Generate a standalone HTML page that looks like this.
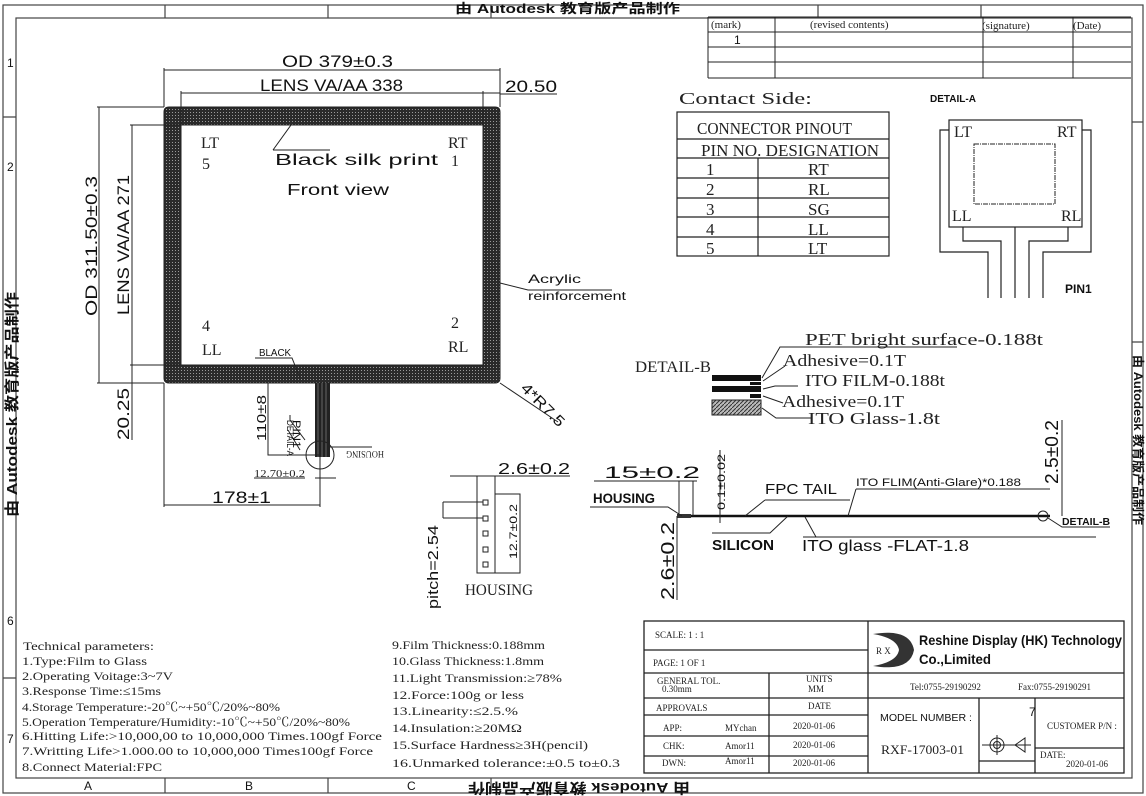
<!DOCTYPE html>
<html><head><meta charset="utf-8"><style>
html,body{margin:0;padding:0;background:#fff}
svg{display:block}
.s{font-family:"Liberation Serif","Noto Serif CJK SC",serif;fill:#222}
.a{font-family:"Liberation Sans","Noto Sans CJK SC",sans-serif;fill:#111}
.b{font-family:"Liberation Sans","Noto Sans CJK SC",sans-serif;font-weight:bold;fill:#111}
</style></head><body>
<svg width="1146" height="796" viewBox="0 0 1146 796" xmlns="http://www.w3.org/2000/svg">
<defs>
<pattern id="dot" width="3" height="3" patternUnits="userSpaceOnUse"><rect width="3" height="3" fill="#2a2a2a"/><rect x="1" y="1" width="1" height="1" fill="#9a9a9a"/></pattern>
<pattern id="hat" width="4" height="4" patternUnits="userSpaceOnUse"><rect width="4" height="4" fill="#bbb"/><path d="M0 4L4 0" stroke="#333" stroke-width="1"/></pattern>
</defs>
<g fill="none" stroke="#444" stroke-width="1.2">
<rect x="3" y="5" width="1140" height="788"/>
<rect x="16" y="18" width="1116" height="760"/>
<path d="M165 5V18M328 5V18M491 5V18M818 5V18M981 5V18"/>
<path d="M165 778V793M328 778V793M491 778V793"/>
<path d="M3 117H16M3 678H16M1132 122H1143M1132 342H1143"/>
</g>
<text class="a" x="7" y="67" font-size="12">1</text>
<text class="a" x="7" y="171" font-size="12">2</text>
<text class="a" x="7" y="625" font-size="12">6</text>
<text class="a" x="7" y="743" font-size="12">7</text>
<text class="a" x="84" y="790" font-size="12">A</text>
<text class="a" x="245" y="790" font-size="12">B</text>
<text class="a" x="407" y="790" font-size="12">C</text>
<text class="b" x="455" y="13" font-size="13" textLength="225" lengthAdjust="spacingAndGlyphs">由 Autodesk 教育版产品制作</text>
<text class="b" transform="translate(690,783) rotate(180)" font-size="14" textLength="222" lengthAdjust="spacingAndGlyphs">由 Autodesk 教育版产品制作</text>
<text class="b" transform="translate(17,517) rotate(-90)" font-size="15" textLength="225" lengthAdjust="spacingAndGlyphs">由 Autodesk 教育版产品制作</text>
<text class="b" transform="translate(1134,355) rotate(90)" font-size="12" textLength="170" lengthAdjust="spacingAndGlyphs">由 Autodesk 教育版产品制作</text>

<!-- revision table -->
<g fill="none" stroke="#222" stroke-width="1">
<path d="M708 17V78M775 17V78M983 17V78M1073 17V78M708 32H1131M708 47H1131M708 62H1131M708 78H1131M708 17H1131"/>
</g>
<text class="s" x="711" y="28" font-size="11">(mark)</text>
<text class="s" x="810" y="28" font-size="11">(revised contents)</text>
<text class="s" x="982" y="29" font-size="11">(signature)</text>
<text class="s" x="1073" y="29" font-size="11">(Date)</text>
<text class="a" x="734" y="44" font-size="12">1</text>

<!-- main panel -->
<path fill="url(#dot)" fill-rule="evenodd" stroke="#222" d="M169 107H495Q500 107 500 112V378Q500 383 495 383H169Q164 383 164 378V112Q164 107 169 107ZM181 125V365H483V125Z"/>
<rect x="315" y="383" width="15" height="74" fill="#222"/>
<path d="M318 383V457M322 383V457M326 383V457" stroke="#777" stroke-width="0.8"/>
<g fill="none" stroke="#222" stroke-width="1">
<path d="M164 107V68M500 107V68M164 70H500"/>
<path d="M181 125V91M483 125V91M181 93H483M483 93H500M500 94H557"/>
<path d="M164 107H97M164 383H97M99 107V383"/>
<path d="M181 125H130M181 365H130M132 125V440M132 383H164"/>
<path d="M164 383V507M320 455V507M164 505H320"/>
<path d="M315 383H268V455H320M268 455H268"/>
<circle cx="320" cy="455" r="14"/>
<path d="M273 150H330M273 150L291 125"/>
<path d="M255 358H292L300 378"/>
<path d="M500 283L528 290H612"/>
<path d="M500 383L558 422"/>
<path d="M305 440L290 420V415M300 450L288 430M330 447H372"/>
<path d="M254 478H305M315 478H336M320 470V490"/>
</g>
<text class="a" x="282" y="67" font-size="17" textLength="111" lengthAdjust="spacingAndGlyphs">OD 379±0.3</text>
<text class="a" x="260" y="91" font-size="17" textLength="143" lengthAdjust="spacingAndGlyphs">LENS VA/AA 338</text>
<text class="a" x="505" y="92" font-size="17" textLength="52" lengthAdjust="spacingAndGlyphs">20.50</text>
<text class="a" transform="translate(97,316) rotate(-90)" font-size="17" textLength="140" lengthAdjust="spacingAndGlyphs">OD 311.50±0.3</text>
<text class="a" transform="translate(129,315) rotate(-90)" font-size="17" textLength="140" lengthAdjust="spacingAndGlyphs">LENS VA/AA 271</text>
<text class="a" transform="translate(129,440) rotate(-90)" font-size="17" textLength="52" lengthAdjust="spacingAndGlyphs">20.25</text>
<text class="a" x="212" y="503" font-size="17" textLength="59" lengthAdjust="spacingAndGlyphs">178±1</text>
<text class="a" transform="translate(266,441) rotate(-90)" font-size="13" textLength="46" lengthAdjust="spacingAndGlyphs">110±8</text>
<text class="a" transform="translate(287,420) rotate(90)" font-size="9" textLength="36" lengthAdjust="spacingAndGlyphs">DETAIL-A</text>
<text class="a" transform="translate(293,420) rotate(90)" font-size="11" textLength="28" lengthAdjust="spacingAndGlyphs">PIN1</text>
<text class="s" transform="translate(384,451) rotate(180)" font-size="9" textLength="38" lengthAdjust="spacingAndGlyphs">HOUSING</text>
<text class="s" x="254" y="477" font-size="10" textLength="51" lengthAdjust="spacingAndGlyphs">12.70±0.2</text>
<text class="a" x="259" y="356" font-size="10" textLength="32" lengthAdjust="spacingAndGlyphs">BLACK</text>
<text class="s" x="201" y="148" font-size="16">LT</text>
<text class="s" x="202" y="169" font-size="16">5</text>
<text class="s" x="448" y="148" font-size="16">RT</text>
<text class="s" x="451" y="166" font-size="16">1</text>
<text class="s" x="202" y="331" font-size="16">4</text>
<text class="s" x="202" y="355" font-size="16">LL</text>
<text class="s" x="451" y="328" font-size="16">2</text>
<text class="s" x="448" y="352" font-size="16">RL</text>
<text class="a" x="275" y="165" font-size="16" textLength="163" lengthAdjust="spacingAndGlyphs">Black silk print</text>
<text class="a" x="287" y="195" font-size="16" textLength="102" lengthAdjust="spacingAndGlyphs">Front view</text>
<text class="a" x="528" y="283" font-size="12" textLength="53" lengthAdjust="spacingAndGlyphs">Acrylic</text>
<text class="a" x="528" y="300" font-size="12" textLength="98" lengthAdjust="spacingAndGlyphs">reinforcement</text>
<text class="a" transform="translate(520,389) rotate(45)" font-size="15" textLength="55" lengthAdjust="spacingAndGlyphs">4*R7.5</text>

<!-- connector table -->
<text class="s" x="679" y="104" font-size="17" textLength="133" lengthAdjust="spacingAndGlyphs">Contact  Side:</text>
<g fill="none" stroke="#222" stroke-width="1.2">
<rect x="677" y="112" width="212" height="144"/>
<path d="M677 139H889M677 158H889M677 178H889M677 198H889M677 217H889M677 237H889M758 158V256"/>
</g>
<text class="s" x="697" y="134" font-size="17" textLength="155" lengthAdjust="spacingAndGlyphs">CONNECTOR PINOUT</text>
<text class="s" x="701" y="156" font-size="17" textLength="178" lengthAdjust="spacingAndGlyphs">PIN NO. DESIGNATION</text>
<g class="s" font-size="17">
<text x="706" y="175">1</text><text x="808" y="175">RT</text>
<text x="706" y="195">2</text><text x="808" y="195">RL</text>
<text x="706" y="215">3</text><text x="808" y="215">SG</text>
<text x="706" y="235">4</text><text x="808" y="235">LL</text>
<text x="706" y="254">5</text><text x="808" y="254">LT</text>
</g>

<!-- detail A -->
<text class="b" x="930" y="102" font-size="10" textLength="46" lengthAdjust="spacingAndGlyphs">DETAIL-A</text>
<g fill="none" stroke="#222" stroke-width="1.2">
<rect x="949" y="120" width="133" height="107"/>
<rect x="974" y="144" width="81" height="60" stroke-dasharray="5 1 1 1" stroke-width="1"/>
<path d="M949 130H940V252H988V298M963 227V241H1001V298M1015 227V298M1068 227V241H1029V298M1082 130H1091V252H1043V298"/>
</g>
<text class="s" x="954" y="137" font-size="16">LT</text>
<text class="s" x="1057" y="137" font-size="16">RT</text>
<text class="s" x="952" y="221" font-size="16">LL</text>
<text class="s" x="1061" y="221" font-size="16">RL</text>
<text class="b" x="1065" y="293" font-size="12">PIN1</text>

<!-- detail B -->
<text class="s" x="635" y="372" font-size="16" textLength="76" lengthAdjust="spacingAndGlyphs">DETAIL-B</text>
<rect x="712" y="375" width="49" height="6" fill="#111"/>
<rect x="712" y="386" width="49" height="6" fill="#111"/>
<rect x="750" y="382" width="11" height="3" fill="#111"/>
<rect x="750" y="394" width="11" height="4" fill="#111"/>
<rect x="712" y="400" width="49" height="15" fill="url(#hat)" stroke="#222"/>
<g fill="none" stroke="#222" stroke-width="1">
<path d="M762 378L780 347H957M763 381L785 366M763 389L775 386H798M763 396L783 403M762 408L776 418H812"/>
</g>
<text class="s" x="805" y="345" font-size="17" textLength="238" lengthAdjust="spacingAndGlyphs">PET bright surface-0.188t</text>
<text class="s" x="783" y="366" font-size="17" textLength="123" lengthAdjust="spacingAndGlyphs">Adhesive=0.1T</text>
<text class="s" x="805" y="386" font-size="17" textLength="140" lengthAdjust="spacingAndGlyphs">ITO FILM-0.188t</text>
<text class="s" x="782" y="407" font-size="17" textLength="122" lengthAdjust="spacingAndGlyphs">Adhesive=0.1T</text>
<text class="s" x="808" y="424" font-size="17" textLength="132" lengthAdjust="spacingAndGlyphs">ITO Glass-1.8t</text>

<!-- housing -->
<g fill="none" stroke="#222" stroke-width="1">
<path d="M450 476H495M477 476V573H495V476M495 494H520V573H495M495 476H570"/>
<rect x="483" y="500" width="5" height="5"/><rect x="483" y="516" width="5" height="5"/><rect x="483" y="531" width="5" height="5"/><rect x="483" y="547" width="5" height="5"/><rect x="483" y="562" width="5" height="5"/>
<path d="M443 502H483M443 518H483M443 502V518"/>
</g>
<text class="a" x="498" y="474" font-size="16" textLength="72" lengthAdjust="spacingAndGlyphs">2.6±0.2</text>
<text class="a" transform="translate(517,559) rotate(-90)" font-size="11" textLength="55" lengthAdjust="spacingAndGlyphs">12.7±0.2</text>
<text class="a" transform="translate(438,609) rotate(-90)" font-size="15" textLength="84" lengthAdjust="spacingAndGlyphs">pitch=2.54</text>
<text class="s" x="465" y="595" font-size="16" textLength="68" lengthAdjust="spacingAndGlyphs">HOUSING</text>

<!-- side view -->
<path d="M680 516H1050" stroke="#111" stroke-width="2.5"/>
<rect x="677" y="514" width="14" height="4" fill="#333"/>
<g fill="none" stroke="#222" stroke-width="1">
<circle cx="1043" cy="516" r="5"/>
<path d="M1048 518L1062 527H1110"/>
<path d="M594 481H697M679 481V516M693 481V516"/>
<path d="M590 507H668L682 516"/>
<path d="M720 450V523"/>
<path d="M765 500H850M765 500L745 516"/>
<path d="M856 489H1050M856 489L848 516"/>
<path d="M712 533H770L788 516"/>
<path d="M803 537H1096M816 537L805 517"/>
<path d="M677 516V600M1062 420V516"/>
</g>
<text class="a" x="604" y="478" font-size="17" textLength="96" lengthAdjust="spacingAndGlyphs">15±0.2</text>
<text class="b" x="593" y="503" font-size="14" textLength="62" lengthAdjust="spacingAndGlyphs">HOUSING</text>
<text class="a" transform="translate(725,510) rotate(-90)" font-size="11" textLength="56" lengthAdjust="spacingAndGlyphs">0.1±0.02</text>
<text class="a" x="765" y="494" font-size="15" textLength="72" lengthAdjust="spacingAndGlyphs">FPC TAIL</text>
<text class="a" x="856" y="486" font-size="11" textLength="165" lengthAdjust="spacingAndGlyphs">ITO FLIM(Anti-Glare)*0.188</text>
<text class="b" x="1062" y="525" font-size="10" textLength="48" lengthAdjust="spacingAndGlyphs">DETAIL-B</text>
<text class="b" x="712" y="550" font-size="15" textLength="62" lengthAdjust="spacingAndGlyphs">SILICON</text>
<text class="a" x="802" y="551" font-size="16" textLength="167" lengthAdjust="spacingAndGlyphs">ITO glass -FLAT-1.8</text>
<text class="a" transform="translate(674,600) rotate(-90)" font-size="18" textLength="78" lengthAdjust="spacingAndGlyphs">2.6±0.2</text>
<text class="a" transform="translate(1058,484) rotate(-90)" font-size="18" textLength="64" lengthAdjust="spacingAndGlyphs">2.5±0.2</text>

<!-- tech params -->
<g class="s" font-size="12">
<text x="23" y="650" textLength="131" lengthAdjust="spacingAndGlyphs">Technical parameters:</text>
<text x="22" y="665" textLength="125" lengthAdjust="spacingAndGlyphs">1.Type:Film to Glass</text>
<text x="22" y="680" textLength="151" lengthAdjust="spacingAndGlyphs">2.Operating Voitage:3~7V</text>
<text x="22" y="695" textLength="139" lengthAdjust="spacingAndGlyphs">3.Response Time:≤15ms</text>
<text x="22" y="711" textLength="258" lengthAdjust="spacingAndGlyphs">4.Storage Temperature:-20℃~+50℃/20%~80%</text>
<text x="22" y="726" textLength="328" lengthAdjust="spacingAndGlyphs">5.Operation Temperature/Humidity:-10℃~+50℃/20%~80%</text>
<text x="22" y="740" textLength="360" lengthAdjust="spacingAndGlyphs">6.Hitting Life:&gt;10,000,00 to 10,000,000 Times.100gf Force</text>
<text x="22" y="755" textLength="351" lengthAdjust="spacingAndGlyphs">7.Writting Life&gt;1.000.00  to 10,000,000 Times100gf Force</text>
<text x="22" y="771" textLength="140" lengthAdjust="spacingAndGlyphs">8.Connect Material:FPC</text>
<text x="392" y="649" textLength="153" lengthAdjust="spacingAndGlyphs">9.Film Thickness:0.188mm</text>
<text x="392" y="665" textLength="152" lengthAdjust="spacingAndGlyphs">10.Glass Thickness:1.8mm</text>
<text x="392" y="682" textLength="170" lengthAdjust="spacingAndGlyphs">11.Light Transmission:≥78%</text>
<text x="392" y="699" textLength="132" lengthAdjust="spacingAndGlyphs">12.Force:100g or less</text>
<text x="392" y="715" textLength="126" lengthAdjust="spacingAndGlyphs">13.Linearity:≤2.5.%</text>
<text x="392" y="732" textLength="130" lengthAdjust="spacingAndGlyphs">14.Insulation:≥20MΩ</text>
<text x="392" y="749" textLength="196" lengthAdjust="spacingAndGlyphs">15.Surface Hardness≥3H(pencil)</text>
<text x="392" y="767" textLength="228" lengthAdjust="spacingAndGlyphs">16.Unmarked tolerance:±0.5 to±0.3</text>
</g>

<!-- title block -->
<g fill="none" stroke="#222" stroke-width="1.3">
<rect x="644" y="621" width="480" height="152"/>
<path d="M868 621V773M644 650H868M644 673H1124M644 698H1124M769 673V773M644 715H868M644 736H868M644 756H868M979 698V773M1035 698V773M1035 748H1124M979 761H1035"/>
</g>
<path d="M873 634Q910 628 914 650Q910 672 873 666Q897 662 899 650Q897 638 873 634Z" fill="#333"/>
<text class="s" x="876" y="654" font-size="9">R X</text>
<text class="b" x="919" y="645" font-size="14" textLength="203" lengthAdjust="spacingAndGlyphs">Reshine Display (HK) Technology</text>
<text class="b" x="919" y="664" font-size="14" textLength="72" lengthAdjust="spacingAndGlyphs">Co.,Limited</text>
<g class="s" font-size="9">
<text x="655" y="638">SCALE: 1 : 1</text>
<text x="653" y="666">PAGE:  1 OF 1</text>
<text x="657" y="684">GENERAL TOL.</text>
<text x="662" y="692">0.30mm</text>
<text x="806" y="682">UNITS</text>
<text x="808" y="692">MM</text>
<text x="656" y="711">APPROVALS</text>
<text x="808" y="709">DATE</text>
<text x="663" y="731">APP:</text><text x="725" y="731">MYchan</text><text x="793" y="729">2020-01-06</text>
<text x="663" y="749">CHK:</text><text x="725" y="749">Amor11</text><text x="793" y="748">2020-01-06</text>
<text x="662" y="766">DWN:</text><text x="725" y="764">Amor11</text><text x="793" y="766">2020-01-06</text>
<text x="910" y="690">Tel:0755-29190292</text>
<text x="1018" y="690">Fax:0755-29190291</text>
<text x="1047" y="729">CUSTOMER P/N :</text>
<text x="1040" y="758">DATE:</text>
<text x="1066" y="767">2020-01-06</text>
</g>
<text class="a" x="880" y="721" font-size="10" textLength="92" lengthAdjust="spacingAndGlyphs">MODEL NUMBER :</text>
<text class="s" x="881" y="754" font-size="13" textLength="83" lengthAdjust="spacingAndGlyphs">RXF-17003-01</text>
<text class="a" x="1029" y="716" font-size="12">7</text>
<g fill="none" stroke="#222" stroke-width="1">
<circle cx="997" cy="745" r="7"/><circle cx="997" cy="745" r="3.5"/>
<path d="M982 745H1031M997 735V755M1015 745L1025 738V752Z"/>
</g>
</svg>
</body></html>
